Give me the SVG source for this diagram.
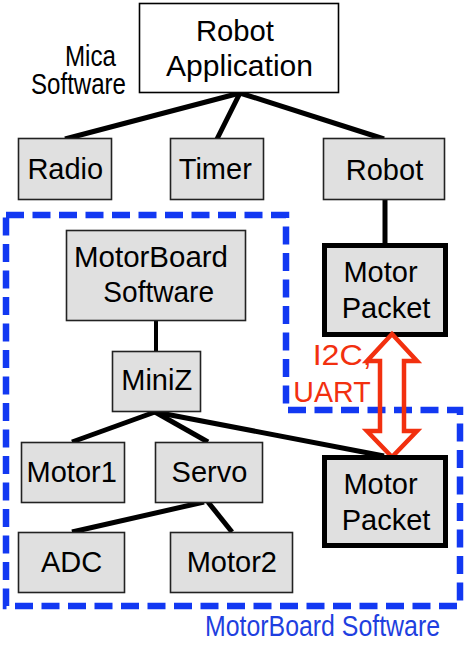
<svg xmlns="http://www.w3.org/2000/svg" width="468" height="654" viewBox="0 0 468 654">
<style>
text{font-family:"Liberation Sans",Arial,sans-serif;font-size:29px;fill:#000;text-anchor:middle}
.box{fill:#e0e0e0;stroke:#222;stroke-width:1.6}
.pk{fill:#e0e0e0;stroke:#000;stroke-width:5}
.ln{stroke:#000;stroke-width:5;stroke-linecap:butt;fill:none}
</style>
<rect width="468" height="654" fill="#fff"/>
<g id="boundary">
<path d="M6,215 H286 V410 H460 V606 H6 Z" fill="none" stroke="#1238f2" stroke-width="6.5" stroke-dasharray="18 8.5"/>
</g>
<g id="connectors">
<line class="ln" x1="240" y1="93" x2="65" y2="139"/>
<line class="ln" x1="240" y1="93" x2="217" y2="139"/>
<line class="ln" x1="240" y1="93" x2="384" y2="139"/>
<line class="ln" x1="385" y1="200" x2="385" y2="244"/>
<line class="ln" x1="156" y1="321" x2="156" y2="351" style="stroke-width:4"/>
<line class="ln" x1="155" y1="412" x2="72" y2="442"/>
<line class="ln" x1="155" y1="412" x2="208" y2="442"/>
<line class="ln" x1="155" y1="412" x2="384" y2="456"/>
<line class="ln" x1="204" y1="502" x2="72" y2="532"/>
<line class="ln" x1="208" y1="502" x2="232" y2="532"/>
</g>
<g id="robot-application">
<rect x="139.5" y="3.5" width="199" height="89" fill="#fff" stroke="#000" stroke-width="1.6"/>
<text x="235" y="40.5" font-size="27" textLength="78" lengthAdjust="spacingAndGlyphs">Robot</text>
<text x="239.5" y="76" font-size="27" textLength="147" lengthAdjust="spacingAndGlyphs">Application</text>
</g>
<g id="mica-label">
<text x="65" y="65.5" font-size="23" style="text-anchor:start" textLength="51" lengthAdjust="spacingAndGlyphs">Mica</text>
<text x="31" y="94" font-size="23" style="text-anchor:start" textLength="95" lengthAdjust="spacingAndGlyphs">Software</text>
</g>
<g id="radio">
<rect class="box" x="18.5" y="138.5" width="93" height="61"/>
<text x="65.3" y="179.3">Radio</text>
</g>
<g id="timer">
<rect class="box" x="170.5" y="138.5" width="93" height="61"/>
<text x="215.3" y="179.3">Timer</text>
</g>
<g id="robot">
<rect class="box" x="323.5" y="138.5" width="121" height="61"/>
<text x="384.5" y="180">Robot</text>
</g>
<g id="motor-packet-top">
<rect class="pk" x="324.5" y="245.5" width="121" height="89"/>
<text x="380.5" y="281.7">Motor</text>
<text x="386" y="318">Packet</text>
</g>
<g id="motorboard-software">
<rect class="box" x="66.5" y="230.5" width="179" height="90"/>
<text x="151" y="266.7" textLength="154" lengthAdjust="spacingAndGlyphs">MotorBoard</text>
<text x="158.7" y="301.7" textLength="110.7" lengthAdjust="spacingAndGlyphs">Software</text>
</g>
<g id="miniz">
<rect class="box" x="112.5" y="351.5" width="88" height="60"/>
<text x="156.7" y="390">MiniZ</text>
</g>
<g id="link">
<path d="M392,334 L417,361 L404,361 L404,431 L417,431 L392,457 L367,431 L380,431 L380,361 L367,361 Z" fill="none" stroke="#f2300f" stroke-width="4.5" stroke-linejoin="miter"/>
<text x="312.7" y="365" font-size="26" style="text-anchor:start;fill:#f2300f" textLength="59" lengthAdjust="spacingAndGlyphs">I2C,</text>
<text x="293.3" y="401.7" font-size="28" style="text-anchor:start;fill:#f2300f" textLength="77.3" lengthAdjust="spacingAndGlyphs">UART</text>
</g>
<g id="motor1">
<rect class="box" x="21.5" y="442.5" width="103" height="60"/>
<text x="71.7" y="481.7">Motor1</text>
</g>
<g id="servo">
<rect class="box" x="155.5" y="442.5" width="107" height="60"/>
<text x="209.5" y="481.7">Servo</text>
</g>
<g id="motor-packet-bottom">
<rect class="pk" x="324.5" y="457.5" width="121" height="88"/>
<text x="380.5" y="494">Motor</text>
<text x="386" y="530">Packet</text>
</g>
<g id="adc">
<rect class="box" x="18.5" y="532.5" width="106" height="60"/>
<text x="71.5" y="571.7">ADC</text>
</g>
<g id="motor2">
<rect class="box" x="170.5" y="532.5" width="122" height="60"/>
<text x="231.8" y="571.7">Motor2</text>
</g>
<g id="motorboard-label">
<text x="205" y="636" font-size="22" style="text-anchor:start;fill:#1f3fe0" textLength="235" lengthAdjust="spacingAndGlyphs">MotorBoard Software</text>
</g>
</svg>
